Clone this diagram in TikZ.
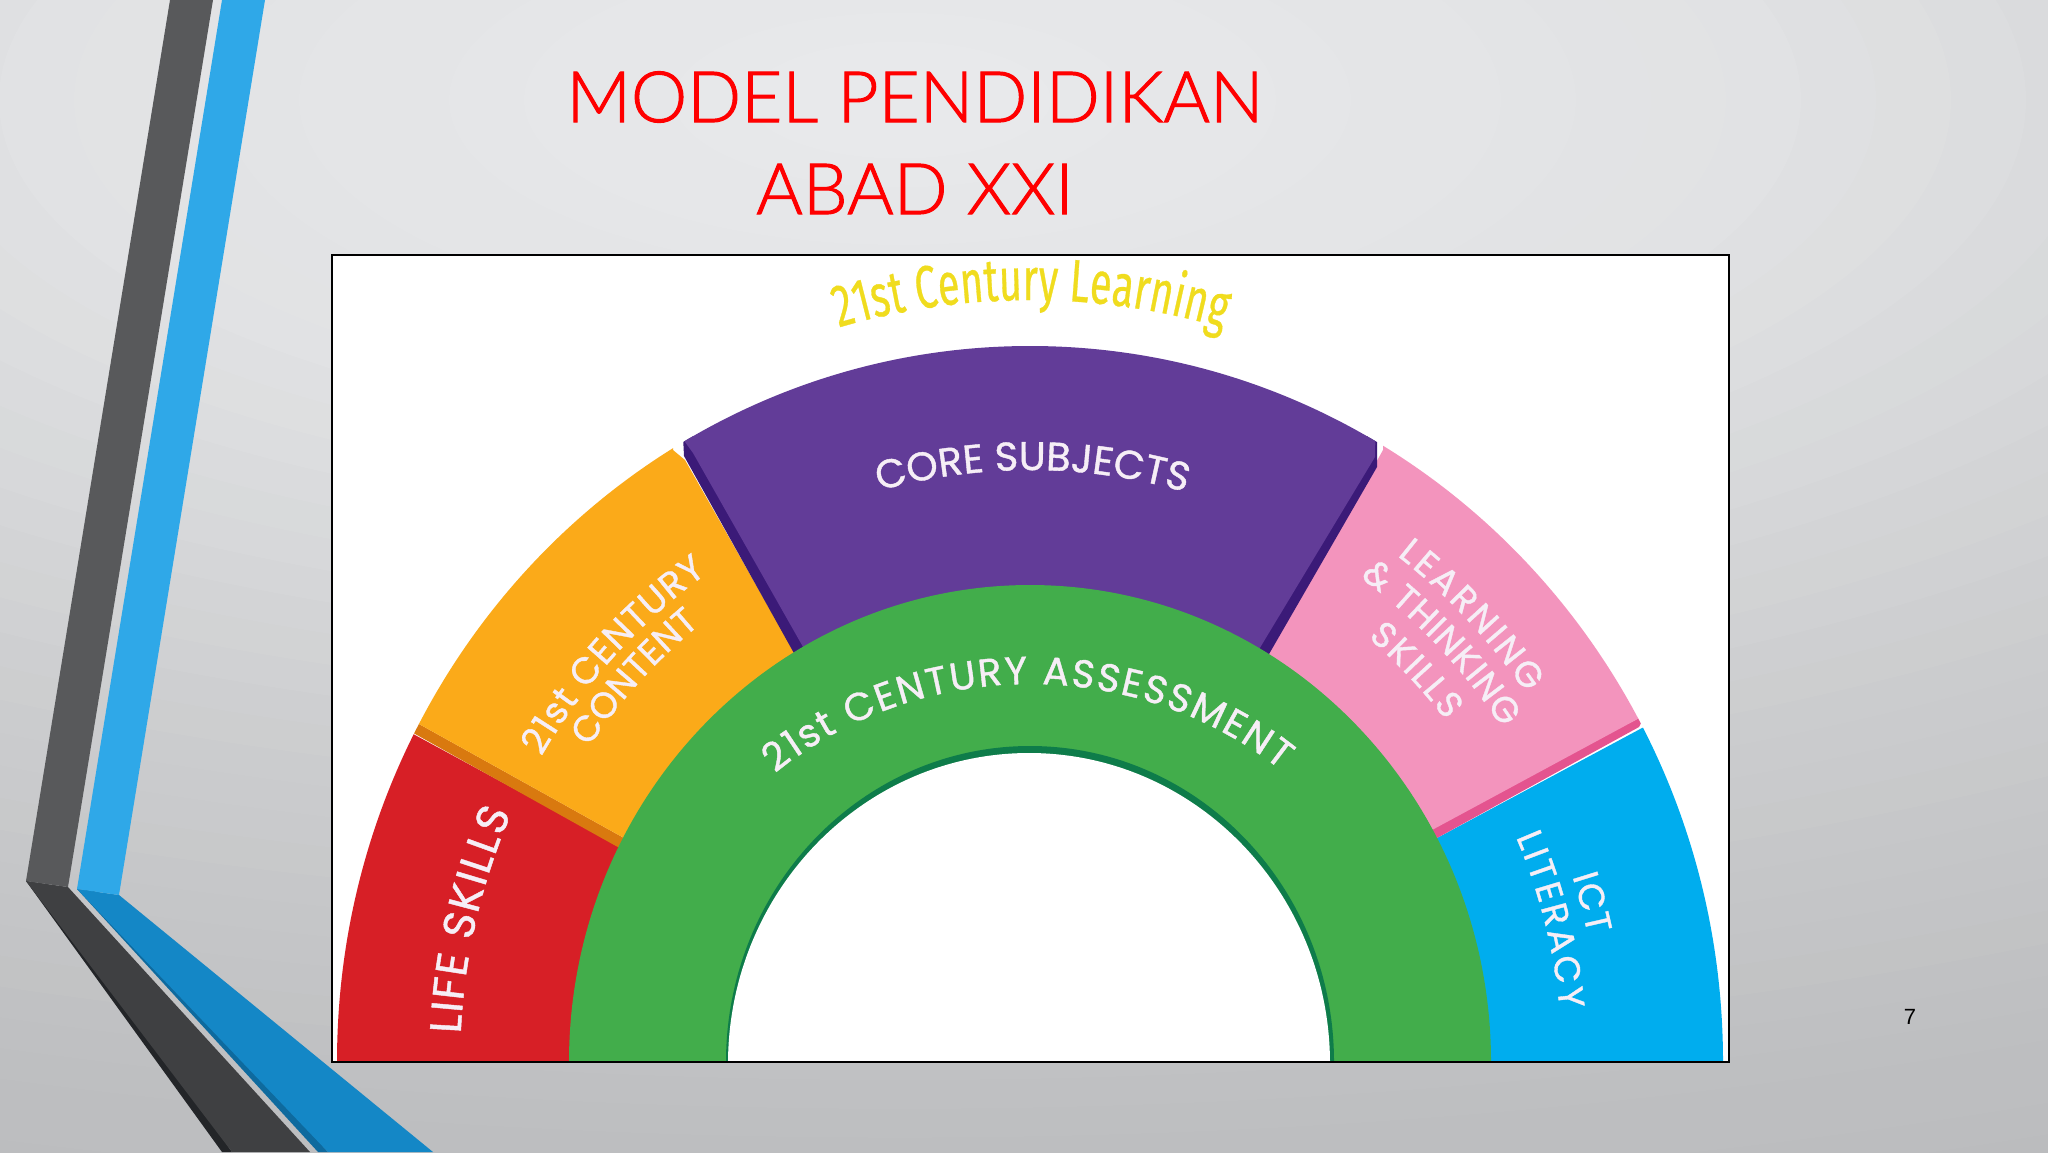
\documentclass[tikz,border=0pt]{standalone}
\usepackage{fontspec}
\usetikzlibrary{decorations.text}
\setmainfont[FakeBold=1.4]{Lato Light}
\newfontfamily\lblf[FakeBold=1]{Poppins}
\newfontfamily\ylwf[FakeStretch=0.66,FakeBold=0.5]{Fira Sans}
\newfontfamily\pgf{Liberation Sans}
\definecolor{rRed}{HTML}{D71F26}
\definecolor{rOrange}{HTML}{FBAA19}
\definecolor{rOrangeD}{HTML}{D9790F}
\definecolor{rPurple}{HTML}{623C98}
\definecolor{rPurpleD}{HTML}{3B1A78}
\definecolor{rPink}{HTML}{F394BD}
\definecolor{rPinkD}{HTML}{E4548F}
\definecolor{rBlue}{HTML}{00ADEE}
\definecolor{rGreen}{HTML}{42AD4B}
\definecolor{rGreenD}{HTML}{0E7C4A}
\definecolor{rYellow}{HTML}{F0DC1E}
\definecolor{rGrey}{HTML}{58595B}
\definecolor{rGreyD}{HTML}{3F4042}
\definecolor{rGreyDD}{HTML}{232528}
\definecolor{rSky}{HTML}{2FA8E8}
\definecolor{rSkyD}{HTML}{1487C6}
\definecolor{rSkyDD}{HTML}{0E6A9E}
\definecolor{lbl}{HTML}{F6EEF6}
\newcommand{\lblS}[1]{\lblf\fontsize{#1}{#1}\selectfont\color{lbl}}
\newcommand{\curvelabel}[5]{%
  \path[decorate,decoration={text along path,text align={fit to path},text={|#5|#3}}]
    plot[domain=#4,samples=40] ({1030+#1*cos(\x)},{1062-#2*sin(\x)});}
\tikzset{
  titletext/.style={text=red,font=\fontsize{35.5}{40}\selectfont,inner sep=0pt,anchor=center},
  pagenum/.style={text=black,font=\pgf\fontsize{11}{12}\selectfont,inner sep=0pt}
}
\begin{document}
\begin{tikzpicture}[x=0.5pt,y=-0.5pt]
\useasboundingbox (0,0) rectangle (2048,1152);
% background: soft radial glow built from nested ellipses
\begin{scope}
  \clip (0,0) rectangle (2048,1152);
  \fill[black!29.4!white] (0,0) rectangle (2048,1152);
  \foreach \r in {130,127.5,...,0}{
    \pgfmathsetmacro{\lev}{\r<30 ? 0.914-0.032*\r/30 : (\r<60 ? 0.882-0.08*(\r-30)/30 : (\r<90 ? 0.802-0.057*(\r-60)/30 : 0.745-0.039*(\r-90)/40))}
    \pgfmathsetmacro{\levG}{\lev+0.004}
    \pgfmathsetmacro{\levB}{\lev+0.011}
    \definecolor{bgc}{rgb}{\lev,\levG,\levB}
    \fill[bgc] (900,100) ellipse [x radius=\r*30+1,y radius=\r*11.52+1];
  }
\end{scope}
% ribbons
\fill[rGreyDD] (26,881) -- (222,1152) -- (232,1152) -- (45,884) -- cycle;
\fill[rGreyD] (26,881) -- (68,887) -- (310,1152) -- (232,1152) -- cycle;
\fill[rGrey] (170,0) -- (213,0) -- (68,887) -- (26,881) -- cycle;
\fill[rSkyDD] (77,889) -- (318,1152) -- (328,1152) -- (95,891) -- cycle;
\fill[rSkyD] (77,889) -- (119,895) -- (433,1152) -- (328,1152) -- cycle;
\fill[rSky] (222,0) -- (265,0) -- (119,895) -- (77,889) -- cycle;
% picture frame
\fill[white] (332,255) rectangle (1729,1062);
\begin{scope}
  \clip (334,257) rectangle (1727,1060);
  \begin{scope}
    \clip (1030,1062) ellipse [x radius=693,y radius=716];
    \fill[rRed] (300,1070) -- (300,660) -- (415,735) -- (640,857) -- (1030,1070) -- cycle;
    \fill[rOrangeD] (410,719) -- (408,730) -- (650,865) -- (660,858) -- cycle;
    \fill[rOrange] (410,719) -- (400,450) -- (673,440) -- (673,450) -- (685,460) -- (793,650) -- (900,860) -- (660,858) -- cycle;
    \fill[rBlue] (1642,728) -- (1437,838) -- (1437,1070) -- (1740,1070) -- (1740,700) -- cycle;
    \fill[rPinkD] (1645,715) -- (1639,727) -- (1437,838) -- (1420,830) -- cycle;
    \fill[rPink] (1383,440) -- (1383,450) -- (1268,655) -- (1300,870) -- (1432,830) -- (1645,715) -- (1700,440) -- cycle;
    \fill[rPurpleD] (683,436) -- (684,456) -- (795,655) -- (1265,661) -- (1377,467) -- (1377,436) -- cycle;
    \fill[rPurple] (685,442) -- (693,453) -- (811,661) -- (1255,656) -- (1375,457) -- (1378,300) -- (680,300) -- (680,430) -- cycle;
  \end{scope}
  \fill[rGreen] (1030,1062) ellipse [x radius=461,y radius=477];
  \fill[rGreenD] (1030,1062) ellipse [x radius=304,y radius=316];
  \fill[white] (1029,1064) ellipse [x radius=301,y radius=311];
\end{scope}
\draw[black,line width=1pt] (332,255) rectangle (1729,1062);
% curved labels
\curvelabel{720}{762}{21st Century Learning}{105.4:74.4}{\ylwf\fontsize{30}{31}\selectfont\color{rYellow}}
\curvelabel{575}{592}{CORE SUBJECTS}{105.2:74.3}{\lblS{20}}
\curvelabel{395}{378}{21st CENTURY ASSESSMENT}{130.2:50.6}{\lblS{19.5}}
\curvelabel{570}{600}{LIFE SKILLS}{177.3:155.5}{\lblS{22}}
\curvelabel{570}{593}{21st CENTURY}{149:124.5}{\lblS{18.5}}
\curvelabel{535}{556}{CONTENT}{145.5:128.1}{\lblS{18}}
\curvelabel{610}{634}{LEARNING}{53:35.6}{\lblS{18}}
\curvelabel{571}{594}{{\&} THINKING}{54.7:34.2}{\lblS{18}}
\curvelabel{530}{551}{SKILLS}{50.4:38.3}{\lblS{18}}
\curvelabel{571}{594}{ICT}{18.2:12.4}{\lblS{18}}
\curvelabel{532}{553}{LITERACY}{24:5.5}{\lblS{18}}
% title and page number
\node[titletext] (t1) at (915,97) {MODEL PENDIDIKAN};
\node[titletext] (t2) at (915,189) {ABAD XXI};
\node[pagenum] (pg) at (1910,1017) {7};
\end{tikzpicture}
\end{document}
